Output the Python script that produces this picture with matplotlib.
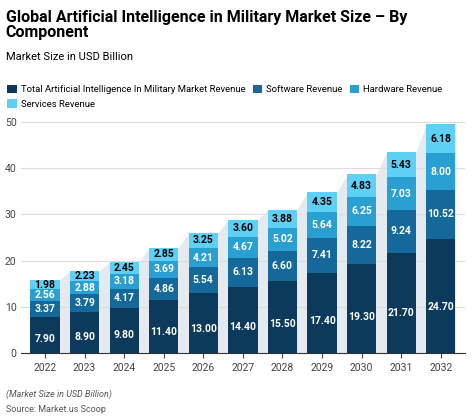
import matplotlib
matplotlib.use("Agg")
import matplotlib.pyplot as plt
import numpy as np

years = ["2022","2023","2024","2025","2026","2027","2028","2029","2030","2031","2032"]
total = [7.90,8.90,9.80,11.40,13.00,14.40,15.50,17.40,19.30,21.70,24.70]
software = [3.37,3.79,4.17,4.86,5.54,6.13,6.60,7.41,8.22,9.24,10.52]
hardware = [2.56,2.88,3.18,3.69,4.21,4.67,5.02,5.64,6.25,7.03,8.00]
services = [1.98,2.23,2.45,2.85,3.25,3.60,3.88,4.35,4.83,5.43,6.18]
series = [("Total Artificial Intelligence In Military Market Revenue", total, "#0b3a5c"),
          ("Software Revenue", software, "#14689a"),
          ("Hardware Revenue", hardware, "#2a9fd2"),
          ("Services Revenue", services, "#5fd0f5")]

plt.rcParams['font.family'] = ['Roboto', 'DejaVu Sans']
fig = plt.figure(figsize=(4.74, 4.18), dpi=100)
ax = fig.add_axes([0.045, 0.155, 0.935, 0.565])
x = np.arange(len(years))
w = 0.74
tops = np.sum([s[1] for s in series], axis=0)
px, py = [], []
for i, t in enumerate(tops):
    px += [i - w/2, i + w/2]; py += [t, t]
ax.fill_between(px, py, 0, color="#e4eaef", zorder=1, lw=0)
bottom = np.zeros(len(years))
handles = []
for k, (name, vals, col) in enumerate(series):
    h = ax.bar(x, vals, w, bottom=bottom, color=col, label=name, zorder=3)
    handles.append(h)
    for i, v in enumerate(vals):
        yy = bottom[i] + v/2 if k > 0 else bottom[i] + v*0.4
        ax.text(i, yy, f"{v:.2f}", ha="center", va="center", fontsize=7.5, fontweight="bold",
                color="black" if k == 3 else "white", zorder=4)
    bottom += np.array(vals)
ax.set_xticks(x, years, fontsize=7.5)
ax.set_yticks(range(0, 51, 10))
ax.tick_params(axis="y", length=0, labelsize=7.5, colors="#444")
ax.tick_params(axis="x", colors="#444")
ax.set_ylim(0, 51)
ax.set_xlim(-0.6, 10.6)
ax.grid(axis="y", color="#dddddd", lw=0.8, zorder=0)
for s in ["top", "right", "left"]:
    ax.spines[s].set_visible(False)
ax.spines["bottom"].set_color("#333")
fig.text(0.012, 0.975, "Global Artificial Intelligence in Military Market Size – By\nComponent",
         fontsize=11.5, fontweight="bold", va="top", linespacing=1.0)
fig.text(0.012, 0.875, "Market Size in USD Billion", fontsize=8, va="top")
order = [0, 3, 1, 2]
ax.legend([handles[i] for i in order], [series[i][0] for i in order],
          loc="lower left", bbox_to_anchor=(-0.04, 1.02), ncol=3, fontsize=6.8, frameon=False,
          handlelength=1, handleheight=1, columnspacing=0.8, handletextpad=0.4, borderaxespad=0)
fig.text(0.012, 0.05, "(Market Size in USD Billion)", fontsize=6.5, style="italic", color="#555")
fig.text(0.012, 0.015, "Source: Market.us Scoop", fontsize=6.5, color="#555")
fig.savefig("out.png", dpi=100)
